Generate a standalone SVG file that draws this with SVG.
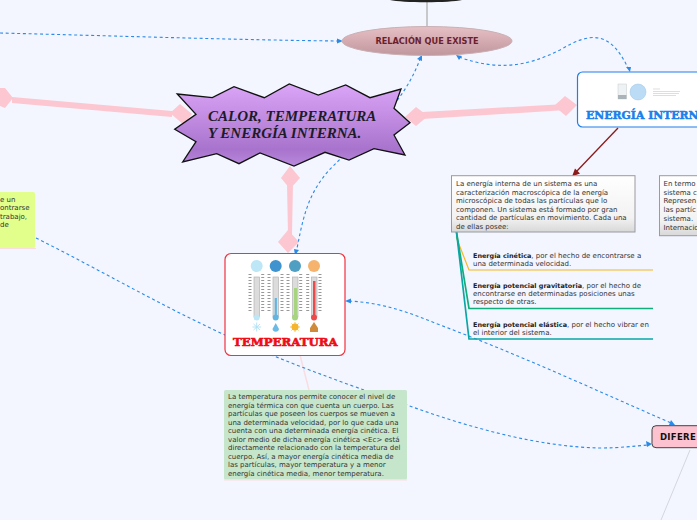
<svg xmlns="http://www.w3.org/2000/svg" width="697" height="520" viewBox="0 0 697 520">
<style>
.body{font-family:"DejaVu Sans",Verdana,sans-serif;font-size:7px;fill:#333}
.bold{font-size:6.450px;font-weight:bold;fill:#222}
.dash{fill:none;stroke:#2b8ae8;stroke-width:1.100;stroke-dasharray:3 2.700}
.ah{fill:#2b8ae8}
.pink{fill:#fcc7d0;stroke:none}
.therm{fill:#dcdcdc;stroke:#aaa;stroke-width:.6}
.fat{font-family:"DejaVu Serif",serif;font-weight:bold}
</style>
<defs>
<linearGradient id="star" x1="0" y1="0" x2="0" y2="1"><stop offset="0" stop-color="#dba6f8"/><stop offset=".8" stop-color="#a873cc"/><stop offset="1" stop-color="#b98add"/></linearGradient>
<linearGradient id="ell" x1="0" y1="0" x2="0" y2="1"><stop offset="0" stop-color="#e7c0c6"/><stop offset="1" stop-color="#bf969c"/></linearGradient>
<linearGradient id="note" x1="0" y1="0" x2="0" y2="1"><stop offset="0" stop-color="#fff"/><stop offset=".75" stop-color="#f2f2f2"/><stop offset="1" stop-color="#d8d8d8"/></linearGradient>
</defs>
<rect width="697" height="520" fill="#f3f6ff"/>

<g id="connectors">
<path d="M427 0V26" stroke="#aaa" stroke-width="1.200" fill="none"/>
<polygon class="pink" points="12,97 172,111 172,117 12,103"/>
<polygon class="pink" points="0,88 5,88 13,98 5,108 0,106"/>
<polygon class="pink" points="180,104 192,114 184,125 170,113"/>
<polygon class="pink" points="422,112 566,104 566,110 422,119"/>
<polygon class="pink" points="416,107 428,116 416,126 405,117"/>
<polygon class="pink" points="565,96 577,105 566,116 554,106"/>
<polygon class="pink" points="287,182 293,182 292,235 288,235"/>
<polygon class="pink" points="290,166 300,178 290,189 281,178"/>
<polygon class="pink" points="288,230 299,242 288,253 278,242"/>
<path d="M300 355L309 390" stroke="#fadde2" stroke-width="1.500" fill="none"/>
<path d="M690 450L661 520" stroke="#d5d5de" stroke-width="1" fill="none"/>
<path d="M0 33C120 36 240 40 338 41" class="dash"/>
<polygon class="ah" points="343,41 337,38.500 337,43.500"/>
<path d="M459 57C500 72 530 65 560 50C590 32 610 30 628 68" class="dash"/>
<polygon class="ah" points="456,55 462,56 459,60"/>
<polygon class="ah" points="630,72 626,67 631,67"/>
<path d="M296 253C302 225 305 200 325 175C345 150 400 115 420 59" class="dash"/>
<polygon class="ah" points="422,55 417,59 422,61"/>
<polygon class="ah" points="295,255 294,249 299,250"/>
<path d="M36 238C100 270 160 305 225 335C280 360 340 382 407 405C470 428 540 447 600 448C620 448 635 446 648 445" class="dash"/>
<polygon class="ah" points="652,444 646,441 647,447"/>
<path d="M349 301C385 303 410 313 440 325C520 355 600 392 671 423" class="dash"/>
<polygon class="ah" points="345,301 351,298.500 351,303.500"/>
<polygon class="ah" points="675,425 669,425 671,420"/>
<path d="M618 128L576 172" stroke="#8b1a1a" stroke-width="1.300" fill="none"/>
<polygon points="572,176.500 575,168.500 580,173.500" fill="#8b1a1a"/>
<path d="M456.500 232V238L469 270H653" stroke="#f6b81f" stroke-width="1.200" fill="none"/>
<path d="M456.500 232L469 308.500H653" stroke="#0fae7c" stroke-width="1.700" fill="none"/>
<path d="M456.500 232L469 339H653" stroke="#0aa6a6" stroke-width="1.700" fill="none"/>
</g>

<g id="node-relacion">
<ellipse cx="427" cy="41" rx="85" ry="14.500" fill="url(#ell)" stroke="#c9b1b5" stroke-width="1"/>
<text x="427" y="44" text-anchor="middle" font-family="DejaVu Sans,sans-serif" font-size="8.200" font-weight="bold" fill="#6b1f2e">RELACIÓN QUE EXISTE</text>
</g>

<g id="node-top"><path d="M390 0H462C450 3 402 3 390 0Z" fill="#222"/></g>

<g id="node-central">
<polygon points="177.300,94 212.300,97.700 234,86.700 264.300,97.700 289.300,84 318.300,95 345.700,85 370,97.700 401,89 394,108.300 410,122.700 394,135 405,155 374,148.700 349,160 325,152.300 294,166 260,153 239,163.700 216.700,153.700 182.700,162 196,141.700 174.700,129.300 196,114.300" fill="url(#star)" stroke="#111" stroke-width="1.300"/>
<text font-family="Liberation Serif,serif" font-size="15" font-weight="bold" font-style="italic" fill="#1c1c28"><tspan x="208" y="121">CALOR, TEMPERATURA</tspan><tspan x="208" y="138">Y ENERGÍA INTERNA.</tspan></text>
</g>

<g id="node-energia">
<rect x="577.500" y="72" width="140" height="55" rx="5" fill="#fff" stroke="#1f7fe8" stroke-width="1.200"/>
<rect x="618" y="84" width="8.500" height="15" fill="#eef2f4" stroke="#c5c9cc" stroke-width=".5"/>
<rect x="618" y="95" width="8.500" height="4" fill="#a9b3b8"/>
<circle cx="638" cy="92" r="8" fill="#bcdcf5" stroke="#9cc4e6" stroke-width=".5"/>
<path d="M653 89H660M653 91.500H680M653 93.500H679M653 95.500H676" stroke="#d0d0d0" stroke-width=".7"/>
<text class="fat" x="586" y="119" font-size="11" fill="#1a80ea" stroke="#1a80ea" stroke-width=".5" textLength="121" lengthAdjust="spacingAndGlyphs">ENERGÍA INTERNA</text>
</g>

<g id="node-energia-text">
<rect x="451.500" y="175.700" width="183.500" height="56.300" fill="url(#note)" stroke="#9a9aa2" stroke-width="1"/>
<text class="body"><tspan x="456" y="186">La energía interna de un sistema es una</tspan><tspan x="456" y="194.500">caracterización macroscópica de la energía</tspan><tspan x="456" y="203">microscópica de todas las partículas que lo</tspan><tspan x="456" y="211.500">componen. Un sistema está formado por gran</tspan><tspan x="456" y="220">cantidad de partículas en movimiento. Cada una</tspan><tspan x="456" y="228.500">de ellas posee:</tspan></text>
</g>

<g id="node-termo">
<rect x="659.500" y="175.700" width="50" height="60" fill="url(#note)" stroke="#9a9aa2" stroke-width="1"/>
<text class="body"><tspan x="663.500" y="186">En termo</tspan><tspan x="663.500" y="194.500">sistema c</tspan><tspan x="663.500" y="203">Represen</tspan><tspan x="663.500" y="211.500">las partíc</tspan><tspan x="663.500" y="221">sistema.</tspan><tspan x="663.500" y="230">Internacio</tspan></text>
</g>

<g id="node-cinetica"><text class="body"><tspan x="473" y="258"><tspan class="bold">Energía cinética</tspan>, por el hecho de encontrarse a</tspan><tspan x="473" y="266">una determinada velocidad.</tspan></text></g>
<g id="node-gravitatoria"><text class="body"><tspan x="473" y="288"><tspan class="bold">Energía potencial gravitatoria</tspan>, por el hecho de</tspan><tspan x="473" y="296">encontrarse en determinadas posiciones unas</tspan><tspan x="473" y="304">respecto de otras.</tspan></text></g>
<g id="node-elastica"><text class="body"><tspan x="473" y="327"><tspan class="bold">Energía potencial elástica</tspan>, por el hecho vibrar en</tspan><tspan x="473" y="335">el interior del sistema.</tspan></text></g>

<g id="node-temperatura">
<rect x="225" y="253.500" width="120" height="102" rx="6" fill="#fff" stroke="#f0333f" stroke-width="1.200"/>
<circle cx="256.700" cy="266" r="6" fill="#bde6f6"/>
<circle cx="275.700" cy="266" r="6" fill="#3f94cf"/>
<circle cx="295" cy="266" r="6" fill="#4f9fc2"/>
<circle cx="314" cy="266" r="6" fill="#f5b36d"/>
<rect class="therm" x="254" y="277" width="5.500" height="40"/>
<rect class="therm" x="273" y="277" width="5.500" height="40"/>
<rect class="therm" x="292.500" y="277" width="5.500" height="40"/>
<rect class="therm" x="311.500" y="277" width="5.500" height="40"/>
<rect x="274.700" y="298" width="2.200" height="19" fill="#62b5e0"/>
<rect x="294" y="288" width="3" height="29" fill="#a6d47f"/>
<rect x="313" y="281" width="2.500" height="36" fill="#ee4a4a"/>
<circle cx="256.700" cy="317.500" r="3" fill="#bde6f6"/>
<circle cx="275.700" cy="317.500" r="3" fill="#62b5e0"/>
<circle cx="295" cy="317.500" r="3" fill="#a6d47f"/>
<circle cx="314" cy="317.500" r="3" fill="#ee4a4a"/>
<path d="M250 274V313M262.700 274V313M269 274V313M282 274V313M288 274V313M300.700 274V313M307.700 274V313M320 274V313" stroke="#777" stroke-width="3" stroke-dasharray=".8 2.200" fill="none"/>
<path d="M252.500 327H261M256.700 322.500V331.500M253.500 324L260 330M260 324L253.500 330" stroke="#aee0f5" stroke-width=".9" fill="none"/>
<path d="M275.700 323L279 329A3.300 3.300 0 0 1 272.500 329Z" fill="#6cbbe4"/>
<circle cx="295" cy="327" r="3.500" fill="#f5b52d"/>
<path d="M290 327H300M295 322V332M291.500 323.500L298.500 330.500M298.500 323.500L291.500 330.500" stroke="#f5b52d" stroke-width=".8" fill="none"/>
<path d="M310 332L310 328L314 322L318 328V332Z" fill="#d08a3c"/>
<text class="fat" x="233" y="345.500" font-size="11" fill="#ee0d17" stroke="#ee0d17" stroke-width=".6" textLength="104.500" lengthAdjust="spacingAndGlyphs">TEMPERATURA</text>
</g>

<g id="node-temp-text">
<rect x="224" y="390" width="183" height="89.500" rx="1.500" fill="#c6e6cb"/>
<path d="M224 480H407" stroke="#fadde2" stroke-width="1"/>
<text class="body"><tspan x="228" y="399">La temperatura nos permite conocer el nivel de</tspan><tspan x="228" y="407.500">energía térmica con que cuenta un cuerpo. Las</tspan><tspan x="228" y="416">partículas que poseen los cuerpos se mueven a</tspan><tspan x="228" y="424.500">una determinada velocidad, por lo que cada una</tspan><tspan x="228" y="433">cuenta con una determinada energía cinética. El</tspan><tspan x="228" y="441.500">valor medio de dicha energía cinética &lt;Ec&gt; está</tspan><tspan x="228" y="450">directamente relacionado con la temperatura del</tspan><tspan x="228" y="458.500">cuerpo. Así, a mayor energía cinética media de</tspan><tspan x="228" y="467">las partículas, mayor temperatura y a menor</tspan><tspan x="228" y="475.500">energía cinética media, menor temperatura.</tspan></text>
</g>

<g id="node-amarillo">
<rect x="-5" y="192" width="40" height="56" rx="1.500" fill="#e2ff8c"/>
<path d="M0 248.500H36" stroke="#fadde2" stroke-width="1"/>
<text class="body"><tspan x="0" y="202">e un</tspan><tspan x="0" y="210">ontrarse</tspan><tspan x="0" y="218.500">trabajo,</tspan><tspan x="0" y="227">de</tspan></text>
</g>

<g id="node-diferencias">
<rect x="652" y="425.700" width="60" height="22" rx="4" fill="#fcc2cf" stroke="#444" stroke-width="1"/>
<text x="660" y="440" font-family="DejaVu Sans,sans-serif" font-size="8.500" font-weight="bold" letter-spacing=".3" fill="#111">DIFERE</text>
</g>
</svg>
